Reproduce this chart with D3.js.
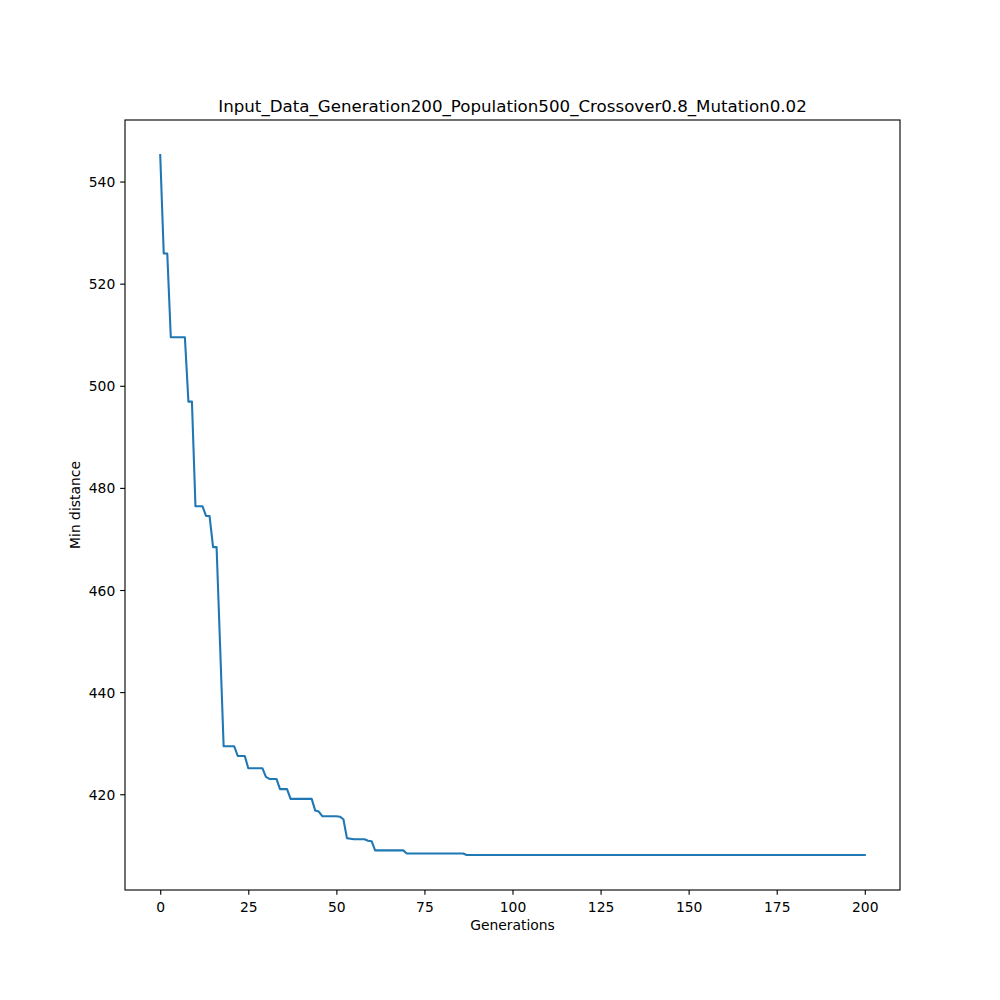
<!DOCTYPE html>
<html>
<head>
<meta charset="utf-8">
<script src="https://cdn.jsdelivr.net/npm/d3@7"></script>
<style>
  body { margin: 0; background: #fff; }
  text { font-family: "DejaVu Sans", sans-serif; fill: #000; }
</style>
</head>
<body>
<svg id="chart" width="1000" height="1000"></svg>
<script>
"use strict";

var chartTitle = "Input_Data_Generation200_Population500_Crossover0.8_Mutation0.02";
var xLabel = "Generations";
var yLabel = "Min distance";
var xTicks = [0, 25, 50, 75, 100, 125, 150, 175, 200];
var yTicks = [420, 440, 460, 480, 500, 520, 540];

// min distance per generation, 0..200
var minDistance = [
	545.2, 525.9, 525.9, 509.5, 509.5, 509.5, 509.5, 509.5, 496.9, 496.9,
	476.4, 476.4, 476.4, 474.5, 474.5, 468.4, 468.4, 449.0, 429.4, 429.4,
	429.4, 429.4, 427.5, 427.5, 427.5, 425.1, 425.1, 425.1, 425.1, 425.1,
	423.4, 423.0, 423.0, 423.0, 421.0, 421.0, 421.0, 419.1, 419.1, 419.1,
	419.1, 419.1, 419.1, 419.1, 416.8, 416.6, 415.7, 415.7, 415.7, 415.7,
	415.7, 415.6, 415.1, 411.4, 411.3, 411.2, 411.2, 411.2, 411.2, 410.9,
	410.8, 409.0, 409.0, 409.0, 409.0, 409.0, 409.0, 409.0, 409.0, 409.0,
	408.4, 408.4, 408.4, 408.4, 408.4, 408.4, 408.4, 408.4, 408.4, 408.4,
	408.4, 408.4, 408.4, 408.4, 408.4, 408.4, 408.4, 408.1, 408.1, 408.1,
	408.1, 408.1, 408.1, 408.1, 408.1, 408.1, 408.1, 408.1, 408.1, 408.1,
	408.1, 408.1, 408.1, 408.1, 408.1, 408.1, 408.1, 408.1, 408.1, 408.1,
	408.1, 408.1, 408.1, 408.1, 408.1, 408.1, 408.1, 408.1, 408.1, 408.1,
	408.1, 408.1, 408.1, 408.1, 408.1, 408.1, 408.1, 408.1, 408.1, 408.1,
	408.1, 408.1, 408.1, 408.1, 408.1, 408.1, 408.1, 408.1, 408.1, 408.1,
	408.1, 408.1, 408.1, 408.1, 408.1, 408.1, 408.1, 408.1, 408.1, 408.1,
	408.1, 408.1, 408.1, 408.1, 408.1, 408.1, 408.1, 408.1, 408.1, 408.1,
	408.1, 408.1, 408.1, 408.1, 408.1, 408.1, 408.1, 408.1, 408.1, 408.1,
	408.1, 408.1, 408.1, 408.1, 408.1, 408.1, 408.1, 408.1, 408.1, 408.1,
	408.1, 408.1, 408.1, 408.1, 408.1, 408.1, 408.1, 408.1, 408.1, 408.1,
	408.1, 408.1, 408.1, 408.1, 408.1, 408.1, 408.1, 408.1, 408.1, 408.1,
	408.1
];

var axLeft = 125, axRight = 900, axTop = 120, axBottom = 890;
var pt = 100 / 72; // points -> px at 100 dpi
var svg = d3.select('#chart');

// matplotlib-like 5% margins around the data
function padded(lo, hi) {
	var m = (hi - lo) * 0.05;
	return [lo - m, hi + m];
}

var x = d3.scaleLinear()
	.domain(padded(0, minDistance.length - 1))
	.range([axLeft, axRight]);
var y = d3.scaleLinear()
	.domain(padded(d3.min(minDistance), d3.max(minDistance)))
	.range([axBottom, axTop]);

var line = d3.line()
	.x(function(d, i){ return x(i); })
	.y(function(d){ return y(d); });

svg.append('defs').append('clipPath').attr('id', 'clip')
	.append('rect')
	.attr('x', axLeft).attr('y', axTop)
	.attr('width', axRight - axLeft).attr('height', axBottom - axTop);

svg.append('path')
	.datum(minDistance)
	.attr('clip-path', 'url(#clip)')
	.attr('d', line)
	.attr('fill', 'none')
	.attr('stroke', '#1f77b4')
	.attr('stroke-width', 1.5 * pt)
	.attr('stroke-linejoin', 'round')
	.attr('stroke-linecap', 'square');

var xAxis = svg.append('g')
	.attr('transform', 'translate(0,' + axBottom + ')')
	.call(d3.axisBottom(x).tickValues(xTicks).tickSize(3.5 * pt).tickPadding(3.5 * pt).tickSizeOuter(0));
var yAxis = svg.append('g')
	.attr('transform', 'translate(' + axLeft + ',0)')
	.call(d3.axisLeft(y).tickValues(yTicks).tickSize(3.5 * pt).tickPadding(3.5 * pt).tickSizeOuter(0));

[xAxis, yAxis].forEach(function(ax){
	ax.select('.domain').remove();
	ax.selectAll('line').attr('stroke', '#000').attr('stroke-width', 0.8 * pt);
	ax.selectAll('text')
		.style('font-family', '"DejaVu Sans", sans-serif')
		.style('font-size', (10 * pt) + 'px')
		.attr('fill', '#000');
});
xAxis.selectAll('text').attr('dy', '0.87em');
yAxis.selectAll('text').attr('dy', '0.36em');

// frame
svg.append('rect')
	.attr('x', axLeft).attr('y', axTop)
	.attr('width', axRight - axLeft).attr('height', axBottom - axTop)
	.attr('fill', 'none')
	.attr('stroke', '#000')
	.attr('stroke-width', 0.8 * pt);

svg.append('text')
	.attr('x', (axLeft + axRight) / 2)
	.attr('y', axTop - 6 * pt)
	.attr('text-anchor', 'middle')
	.style('font-size', (12 * pt) + 'px')
	.text(chartTitle);

svg.append('text')
	.attr('x', (axLeft + axRight) / 2)
	.attr('y', 929.5)
	.attr('text-anchor', 'middle')
	.style('font-size', (10 * pt) + 'px')
	.text(xLabel);

svg.append('text')
	.attr('transform', 'translate(80,' + ((axTop + axBottom) / 2) + ') rotate(-90)')
	.attr('text-anchor', 'middle')
	.style('font-size', (10 * pt) + 'px')
	.text(yLabel);
</script>
</body>
</html>
